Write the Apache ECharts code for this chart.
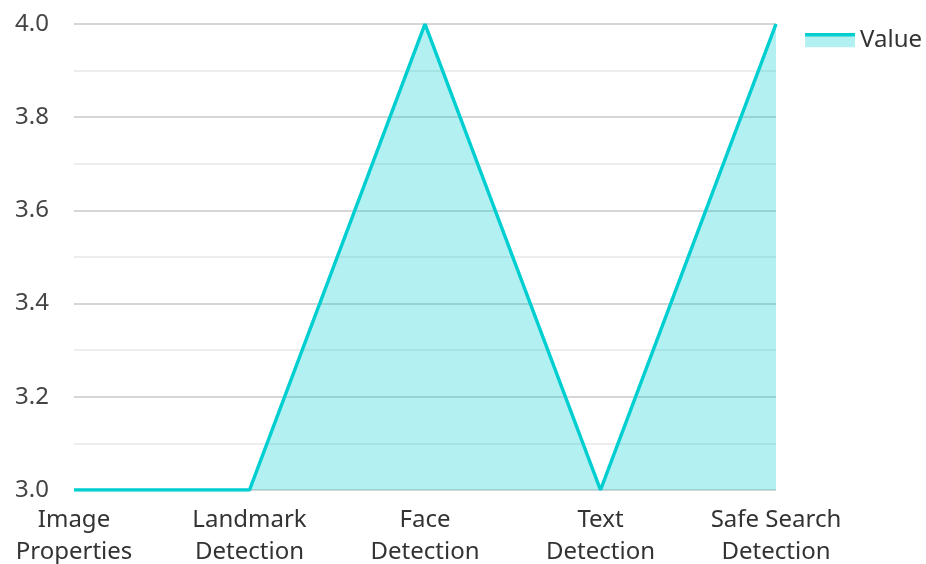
<!DOCTYPE html>
<html>
<head>
<meta charset="utf-8">
<script src="https://cdn.jsdelivr.net/npm/echarts@6/dist/echarts.min.js"></script>
<style>
  html, body { margin: 0; padding: 0; background: #fff; }
  #chart { width: 926px; height: 564px; }
</style>
</head>
<body>
<div id="chart"></div>
<script>
const categories = [
  "Image\nProperties",
  "Landmark\nDetection",
  "Face\nDetection",
  "Text\nDetection",
  "Safe Search\nDetection",
]
const values = [3, 3, 4, 3, 4]
const seriesName = "Value"

const chart = echarts.init(document.getElementById("chart"))
const font = "'Noto Sans', sans-serif"

// legend icon: thick line on top of a light area block
const iconSvg =
  '<svg xmlns="http://www.w3.org/2000/svg" width="50" height="15">' +
  '<rect x="0" y="0" width="50" height="15" fill="rgb(178,240,241)"/>' +
  '<rect x="0" y="0" width="50" height="4" fill="#00CED1"/></svg>'
const legendIcon = "image://data:image/svg+xml;charset=utf-8," + encodeURIComponent(iconSvg)

const option = {
  animation: false,
  textStyle: { fontFamily: font },
  grid: {
    top: 24,
    left: 74,
    right: 150,
    bottom: 74,
    outerBoundsMode: "none",
  },
  legend: {
    data: [{ name: seriesName, icon: legendIcon }],
    right: -1,
    top: 23,
    itemWidth: 50,
    itemHeight: 15,
    itemGap: 9,
    textStyle: { fontSize: 24, color: "#333", fontFamily: font },
  },
  xAxis: {
    type: "category",
    boundaryGap: false,
    data: categories,
    axisLine: { show: false },
    axisTick: { show: false },
    axisLabel: {
      fontSize: 24,
      lineHeight: 32,
      color: "#333",
      margin: 14,
      interval: 0,
      fontFamily: font,
    },
  },
  yAxis: {
    type: "value",
    min: 3,
    max: 4,
    interval: 0.2,
    axisLine: { show: false },
    axisTick: { show: false },
    axisLabel: {
      fontSize: 24,
      color: "#444",
      margin: 25,
      fontFamily: font,
      formatter: (v) => v.toFixed(1),
    },
    splitLine: { lineStyle: { color: "#c8c8c8", width: 1.5 } },
    minorTick: { show: false, splitNumber: 2 },
    minorSplitLine: { show: true, lineStyle: { color: "#e8e8e8", width: 1.5 } },
  },
  series: [
    {
      name: seriesName,
      type: "line",
      data: values,
      symbol: "none",
      lineStyle: { color: "#00CED1", width: 3.5 },
      itemStyle: { color: "#00CED1" },
      areaStyle: { color: "rgba(0, 206, 209, 0.3)", opacity: 1 },
    },
  ],
}

chart.setOption(option)
</script>
</body>
</html>
